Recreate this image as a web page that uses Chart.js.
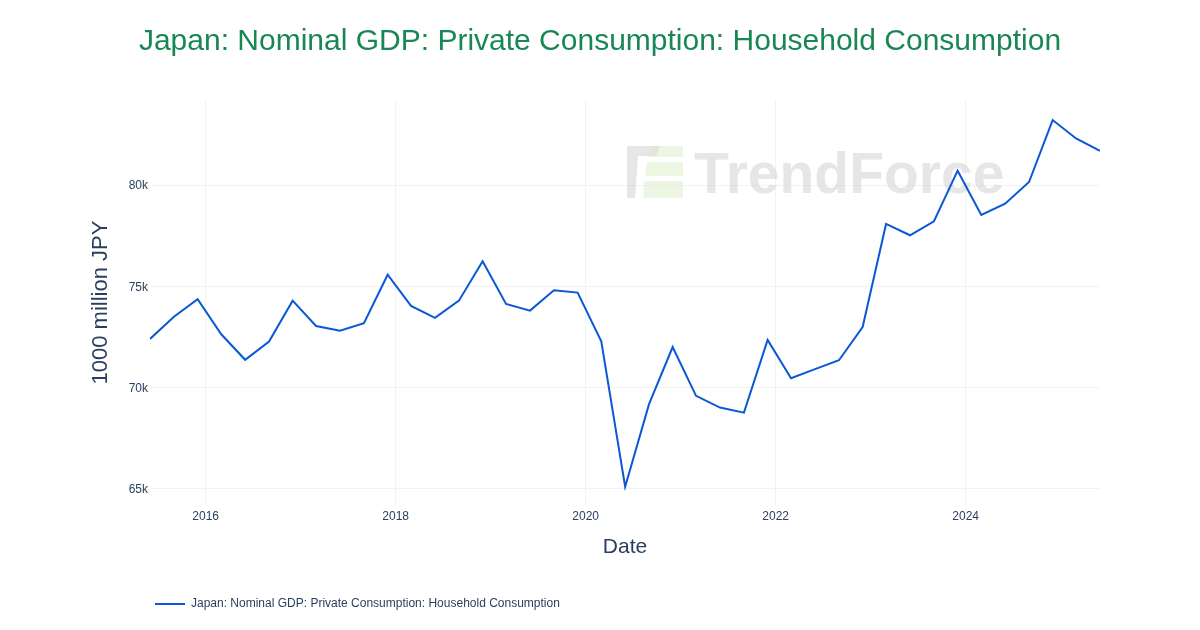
<!DOCTYPE html>
<html>
<head>
<meta charset="utf-8">
<script src="https://cdn.jsdelivr.net/npm/chart.js@4.4.1/dist/chart.umd.min.js"></script>
<style>
  html, body { margin: 0; padding: 0; background: #ffffff; }
  #wrap { width: 1200px; height: 630px; position: relative; }
</style>
</head>
<body>
<div id="wrap"><canvas id="c" width="1200" height="630"></canvas></div>
<script>
// ---- Data ----
const chartTitle = 'Japan: Nominal GDP: Private Consumption: Household Consumption';
const seriesName = 'Japan: Nominal GDP: Private Consumption: Household Consumption';
const xAxisTitle = 'Date';
const yAxisTitle = '1000 million JPY';

const dates = [
  '2015-06','2015-09','2015-12',
  '2016-03','2016-06','2016-09','2016-12',
  '2017-03','2017-06','2017-09','2017-12',
  '2018-03','2018-06','2018-09','2018-12',
  '2019-03','2019-06','2019-09','2019-12',
  '2020-03','2020-06','2020-09','2020-12',
  '2021-03','2021-06','2021-09','2021-12',
  '2022-03','2022-06','2022-09','2022-12',
  '2023-03','2023-06','2023-09','2023-12',
  '2024-03','2024-06','2024-09','2024-12',
  '2025-03','2025-06'
];

const consumption = [
  72400, 73500, 74360,
  72630, 71370, 72270, 74290,
  73040, 72810, 73180, 75570,
  74030, 73440, 74290, 76240,
  74130, 73800, 74800, 74690,
  72280, 65100, 69180, 72000,
  69590, 69010, 68760, 72350,
  70460, 70910, 71350, 72990,
  78080, 77520, 78210, 80710,
  78520, 79080, 80150, 83210,
  82300, 81690
];

const xTickYears = [2016, 2018, 2020, 2022, 2024];
const yTickValues = [65000, 70000, 75000, 80000];
const yRange = [64200, 84200];

// ---- helpers ----
function decYear(s) {
  const [y, m] = s.split('-').map(Number);
  const start = Date.UTC(y, 0, 1), end = Date.UTC(y + 1, 0, 1);
  return y + (Date.UTC(y, m - 1, 1) - start) / (end - start);
}
const points = dates.map((d, i) => ({ x: decYear(d), y: consumption[i] }));

const FONT = "'Liberation Sans', Arial, Helvetica, sans-serif";
const TEXT = '#2a3f5f';
const GRID = '#f2f2f2';
const LINE = '#0b57d6';

Chart.defaults.font.family = FONT;

// Watermark drawn behind the data line
const watermark = {
  id: 'watermark',
  beforeDatasetsDraw(chart) {
    const ctx = chart.ctx;
    ctx.save();
    // logo: grey part
    ctx.fillStyle = 'rgba(205,205,205,0.5)';
    ctx.beginPath();
    ctx.moveTo(627, 146); ctx.lineTo(660, 146); ctx.lineTo(656, 156);
    ctx.lineTo(638, 156); ctx.lineTo(635, 198); ctx.lineTo(627, 198);
    ctx.closePath(); ctx.fill();
    // logo: pale green part
    ctx.fillStyle = 'rgba(215,235,190,0.45)';
    ctx.beginPath();
    ctx.moveTo(651, 146); ctx.lineTo(683, 146); ctx.lineTo(683, 157); ctx.lineTo(648, 157); ctx.closePath();
    ctx.moveTo(647, 162); ctx.lineTo(683, 162); ctx.lineTo(683, 176); ctx.lineTo(645, 176); ctx.closePath();
    ctx.moveTo(644, 181); ctx.lineTo(683, 181); ctx.lineTo(683, 198); ctx.lineTo(643, 198); ctx.closePath();
    ctx.fill();
    // text
    ctx.fillStyle = 'rgba(205,205,205,0.5)';
    ctx.font = "bold 57px " + FONT;
    ctx.textBaseline = 'alphabetic';
    ctx.textAlign = 'left';
    ctx.fillText('TrendForce', 694, 193, 312);
    ctx.restore();
  }
};

new Chart(document.getElementById('c'), {
  type: 'line',
  data: {
    datasets: [{
      label: seriesName,
      data: points,
      borderColor: LINE,
      backgroundColor: LINE,
      borderWidth: 2,
      pointRadius: 0,
      pointHoverRadius: 0,
      tension: 0,
      fill: false
    }]
  },
  options: {
    responsive: false,
    devicePixelRatio: 1,
    animation: false,
    layout: { padding: { left: 0, right: 0, top: 0, bottom: 10 } },
    plugins: {
      title: {
        display: true,
        text: chartTitle,
        color: '#198754',
        font: { size: 30, weight: 'normal', family: FONT },
        padding: { top: 24, bottom: 40 }
      },
      legend: {
        display: true,
        position: 'bottom',
        align: 'start',
        fullSize: false,
        labels: {
          usePointStyle: true,
          pointStyle: 'line',
          pointStyleWidth: 30,
          padding: 5,
          color: TEXT,
          font: { size: 12, family: FONT }
        }
      },
      tooltip: { enabled: false }
    },
    scales: {
      x: {
        type: 'linear',
        min: points[0].x,
        max: points[points.length - 1].x,
        afterBuildTicks: (s) => { s.ticks = xTickYears.map(v => ({ value: v })); },
        afterFit: (s) => { s.height = 88; },
        grid: { color: GRID, lineWidth: 1, drawTicks: false },
        border: { display: false },
        ticks: {
          padding: 4,
          color: TEXT,
          font: { size: 12, family: FONT },
          maxRotation: 0,
          autoSkip: false,
          callback: (v) => String(v)
        },
        title: {
          display: true,
          text: xAxisTitle,
          color: TEXT,
          font: { size: 21, family: FONT },
          padding: { top: 11, bottom: 33.5 }
        }
      },
      y: {
        type: 'linear',
        position: 'left',
        min: yRange[0],
        max: yRange[1],
        afterBuildTicks: (s) => { s.ticks = yTickValues.map(v => ({ value: v })); },
        afterFit: (s) => { s.width = 150; },
        grid: { color: GRID, lineWidth: 1, drawTicks: false },
        border: { display: false },
        ticks: {
          padding: 2,
          labelOffset: 1,
          color: TEXT,
          font: { size: 12, family: FONT },
          callback: (v) => (v / 1000) + 'k'
        },
        title: {
          display: true,
          text: yAxisTitle,
          color: TEXT,
          font: { size: 22, family: FONT },
          padding: { top: 88, bottom: 0 }
        }
      },
      // empty right margin (no ticks, no grid) so the title stays centred on the page
      yRight: {
        type: 'linear',
        position: 'right',
        afterFit: (s) => { s.width = 100; },
        grid: { display: false, drawOnChartArea: false, drawTicks: false },
        border: { display: false },
        ticks: { display: false }
      }
    }
  },
  plugins: [watermark]
});
</script>
</body>
</html>
